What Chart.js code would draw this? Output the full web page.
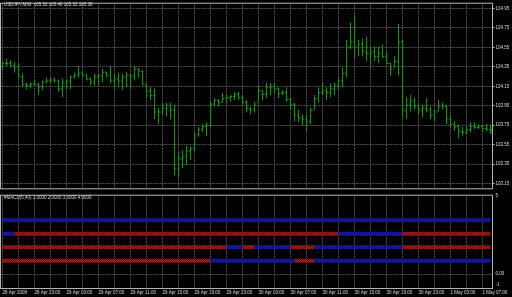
<!DOCTYPE html>
<html lang="en">
<head>
<meta charset="UTF-8">
<title>USDJPY,M30</title>
<script src="https://cdn.jsdelivr.net/npm/chart.js"></script>
<style>
    html, body { margin: 0; padding: 0; background: #000; }
    #wrap { position: relative; width: 512px; height: 297px; overflow: hidden; background: #000; }
    canvas { position: absolute; left: 0; }
    #price { top: 0; }
    #macd { top: 192px; }
    .caption {
        position: absolute; left: 4px;
        font: 9px "Liberation Sans", Arial, sans-serif;
        color: #d8d8d8; white-space: nowrap;
        transform: scale(0.5); transform-origin: 0 0;
    }
</style>
</head>
<body>
<div id="wrap">
    <canvas id="price" width="512" height="192"></canvas>
    <canvas id="macd" width="512" height="105"></canvas>
    <div class="caption" style="top:2px">USDJPY,M30&nbsp; 105.32 105.40 105.32 105.38</div>
    <div class="caption" style="top:195px">#MACD(5,40) 1.0000 2.0000 3.0000 4.0000</div>
</div>

<script>
// --- data ---
const timeLabels = ['28 Apr 2008', '28 Apr 23:00', '29 Apr 03:00', '29 Apr 07:00', '29 Apr 11:00',
    '29 Apr 15:00', '29 Apr 19:00', '29 Apr 23:00', '30 Apr 03:00', '30 Apr 07:00', '30 Apr 11:00',
    '30 Apr 15:00', '30 Apr 19:00', '30 Apr 23:00', '1 May 03:00', '1 May 07:00'];

const opens = [104.36,104.39,104.39,104.37,104.35,104.25,104.17,104.16,104.18,104.17,
    104.15,104.20,104.21,104.22,104.21,104.13,104.19,104.21,104.25,104.27,
    104.29,104.27,104.23,104.20,104.25,104.26,104.30,104.27,104.21,104.23,
    104.21,104.25,104.27,104.26,104.33,104.31,104.17,104.11,104.06,103.89,
    103.89,103.93,103.96,103.91,103.31,103.41,103.43,103.49,103.51,103.66,
    103.71,103.74,103.75,103.97,104.01,103.99,104.03,104.04,104.05,104.07,
    104.04,103.99,103.93,103.91,103.99,104.11,104.07,104.14,104.15,104.13,
    104.08,104.09,104.02,103.97,103.86,103.83,103.81,103.79,103.91,104.03,
    104.09,104.11,104.09,104.13,104.16,104.21,104.29,104.56,104.61,104.56,
    104.59,104.51,104.49,104.51,104.46,104.49,104.46,104.39,104.34,104.41,
    104.61,103.91,103.96,104.01,103.95,103.91,103.93,103.91,103.86,103.89,
    103.96,103.95,103.81,103.76,103.74,103.69,103.68,103.71,103.74,103.73,
    103.74,103.72,103.71];
const highs = [104.41,104.43,104.42,104.40,104.39,104.28,104.19,104.19,104.22,104.18,
    104.21,104.24,104.24,104.24,104.22,104.23,104.22,104.26,104.29,104.36,
    104.31,104.28,104.24,104.28,104.28,104.33,104.30,104.36,104.28,104.29,
    104.28,104.30,104.28,104.36,104.34,104.32,104.17,104.14,104.13,103.93,
    103.98,103.98,103.98,103.96,103.48,103.49,103.54,103.53,103.68,103.73,
    103.76,103.78,103.99,104.03,104.02,104.08,104.06,104.06,104.09,104.09,
    104.06,104.01,103.94,103.99,104.16,104.11,104.19,104.18,104.19,104.14,
    104.11,104.14,104.04,103.98,103.91,103.86,103.86,103.93,104.06,104.14,
    104.19,104.14,104.18,104.19,104.24,104.34,104.63,104.81,104.88,104.63,
    104.64,104.66,104.56,104.56,104.56,104.58,104.51,104.39,104.46,104.79,
    104.63,104.04,104.06,104.03,103.98,103.96,104.03,103.94,103.91,104.01,
    103.98,103.96,103.86,103.79,103.76,103.73,103.74,103.78,103.78,103.76,
    103.75,103.76,103.76];
const lows = [104.32,104.36,104.35,104.29,104.24,104.14,104.12,104.13,104.16,104.06,
    104.11,104.18,104.18,104.19,104.09,104.04,104.12,104.12,104.23,104.24,
    104.24,104.21,104.16,104.16,104.16,104.19,104.24,104.18,104.11,104.14,
    104.11,104.14,104.12,104.21,104.24,104.16,104.03,104.01,103.81,103.76,
    103.86,103.84,103.81,103.23,103.21,103.31,103.34,103.39,103.49,103.63,
    103.68,103.64,103.73,103.94,103.94,103.98,103.98,103.99,104.01,104.01,
    103.96,103.88,103.86,103.88,103.99,104.01,104.03,104.06,104.08,104.03,
    104.06,103.99,103.91,103.79,103.78,103.74,103.68,103.76,103.91,103.98,
    104.06,104.01,104.04,104.06,104.11,104.14,104.24,104.53,104.44,104.46,
    104.46,104.41,104.33,104.41,104.39,104.44,104.38,104.26,104.34,104.26,
    103.83,103.81,103.89,103.91,103.86,103.83,103.88,103.81,103.79,103.89,
    103.91,103.76,103.73,103.69,103.61,103.64,103.66,103.68,103.71,103.71,
    103.68,103.69,103.66];
const closes = [104.39,104.39,104.37,104.35,104.25,104.17,104.16,104.18,104.17,104.15,
    104.20,104.21,104.22,104.21,104.13,104.19,104.21,104.25,104.27,104.29,
    104.27,104.23,104.20,104.25,104.26,104.30,104.27,104.21,104.23,104.21,
    104.25,104.27,104.26,104.33,104.31,104.17,104.11,104.06,103.89,103.89,
    103.93,103.96,103.91,103.31,103.41,103.43,103.49,103.51,103.66,103.71,
    103.74,103.75,103.97,104.01,103.99,104.03,104.04,104.05,104.07,104.04,
    103.99,103.93,103.91,103.97,104.11,104.07,104.14,104.15,104.13,104.08,
    104.09,104.02,103.97,103.86,103.83,103.81,103.79,103.91,104.03,104.09,
    104.11,104.09,104.13,104.16,104.21,104.29,104.56,104.61,104.56,104.59,
    104.51,104.49,104.51,104.46,104.49,104.46,104.39,104.33,104.41,104.61,
    103.91,103.96,104.01,103.95,103.91,103.93,103.91,103.86,103.89,103.96,
    103.95,103.81,103.76,103.74,103.69,103.68,103.71,103.74,103.73,103.74,
    103.72,103.71,103.70];

const priceTicks = [104.95, 104.75, 104.55, 104.35, 104.15, 103.95, 103.75, 103.55, 103.35, 103.15];

// MACD indicator: four constant levels, colour switches (bar index where a run starts)
const macdLevels = [4, 3, 2, 1];
const macdRuns = [
    [[0, 'up']],
    [[0, 'up'], [3, 'dn'], [84, 'up'], [100, 'dn']],
    [[0, 'dn'], [56, 'up'], [60, 'dn'], [63, 'up'], [72, 'dn'], [78, 'up'], [100, 'dn']],
    [[0, 'dn'], [52, 'up'], [73, 'dn'], [78, 'up']]
];
const macdTickValues = [5.8, 0, -0.8];
const macdTickLabels = ['5', '0.00', '-1'];

// --- styling ---
const barGreen = '#00a000';
const gridGrey = '#505050';
const frameGrey = '#b4b4b4';
const textGrey = '#dcdcdc';
const tickFont = { family: 'Liberation Sans', size: 4.5 };

function checker(a, b) {
    const c = document.createElement('canvas');
    c.width = 2; c.height = 2;
    const g = c.getContext('2d');
    g.fillStyle = b; g.fillRect(0, 0, 2, 2);
    g.fillStyle = a; g.fillRect(0, 0, 1, 1); g.fillRect(1, 1, 1, 1);
    return g.createPattern(c, 'repeat');
}
const bluePat = checker('#2222cc', '#08085c');
const redPat = checker('#bc1e1e', '#5c0c0c');

function runColour(runs, i) {
    let s = runs[0][1];
    for (const [start, st] of runs) if (i >= start) s = st;
    return s === 'up' ? bluePat : redPat;
}

const framePlugin = {
    id: 'frame',
    afterDraw(chart) {
        const a = chart.chartArea, ctx = chart.ctx;
        ctx.save();
        ctx.strokeStyle = frameGrey;
        ctx.lineWidth = 1;
        ctx.strokeRect(a.left, a.top - 0.5, a.right - a.left, a.bottom - a.top + 1);
        ctx.restore();
    }
};

const cats = closes.map((_, i) => i);

const xGrid = {
    offset: false,
    drawTicks: false,
    color: (c) => (c.index % 4 === 0 ? gridGrey : 'transparent')
};

// --- price panel ---
new Chart(document.getElementById('price'), {
    type: 'bar',
    data: {
        labels: cats,
        datasets: [
            { data: opens.map(o => [o - 0.01, o]), backgroundColor: barGreen, barThickness: 1 },
            { data: lows.map((l, i) => [l, highs[i]]), backgroundColor: barGreen, barThickness: 1 },
            { data: closes.map(c => [c - 0.01, c]), backgroundColor: barGreen, barThickness: 1 }
        ]
    },
    options: {
        responsive: false,
        animation: false,
        devicePixelRatio: 1,
        inflateAmount: 0,
        layout: { padding: { left: 0.5, top: 1, bottom: 1, right: 0 } },
        plugins: { legend: { display: false }, tooltip: { enabled: false } },
        scales: {
            x: {
                offset: true,
                grid: xGrid,
                border: { display: false, dash: [2, 1] },
                ticks: { display: false },
                afterFit: (s) => { s.height = 0; }
            },
            y: {
                position: 'right',
                min: 103.10,
                max: 105.00,
                afterBuildTicks: (s) => { s.ticks = priceTicks.map(v => ({ value: v })); },
                afterFit: (s) => { s.width = 19.5; },
                grid: { color: gridGrey, tickLength: 2, tickColor: frameGrey, tickBorderDash: [] },
                border: { display: false, dash: [2, 1] },
                ticks: {
                    color: textGrey, font: tickFont, padding: 1,
                    callback: (v) => Number(v).toFixed(2)
                }
            }
        }
    },
    plugins: [framePlugin]
});

// --- MACD panel ---
new Chart(document.getElementById('macd'), {
    type: 'line',
    data: {
        labels: cats,
        datasets: macdLevels.map((lvl, k) => ({
            data: cats.map(() => lvl),
            borderWidth: 4,
            borderCapStyle: 'butt',
            pointRadius: 0,
            borderColor: bluePat,
            segment: { borderColor: (c) => runColour(macdRuns[k], c.p0DataIndex) }
        }))
    },
    options: {
        responsive: false,
        animation: false,
        devicePixelRatio: 1,
        layout: { padding: { left: 0.5, top: 2, bottom: 0, right: 0 } },
        plugins: { legend: { display: false }, tooltip: { enabled: false } },
        scales: {
            x: {
                offset: true,
                grid: xGrid,
                border: { display: false, dash: [2, 1] },
                afterFit: (s) => { s.height = 9; },
                ticks: {
                    autoSkip: false, maxRotation: 0, minRotation: 0, align: 'start',
                    color: textGrey, font: tickFont, padding: 2,
                    callback: (v, i) => (i % 8 === 0 ? timeLabels[i / 8] : '')
                }
            },
            y: {
                position: 'right',
                min: -1.02,
                max: 5.82,
                afterBuildTicks: (s) => { s.ticks = macdTickValues.map(v => ({ value: v })); },
                afterFit: (s) => { s.width = 19.5; },
                grid: {
                    color: (c) => (c.tick && c.tick.value === 0 ? gridGrey : 'transparent'),
                    tickLength: 2, tickColor: 'transparent'
                },
                border: { display: false, dash: [2, 1] },
                ticks: {
                    color: textGrey, font: tickFont, padding: 1,
                    callback: (v) => macdTickLabels[macdTickValues.indexOf(v)]
                }
            }
        }
    },
    plugins: [framePlugin]
});
</script>
</body>
</html>
